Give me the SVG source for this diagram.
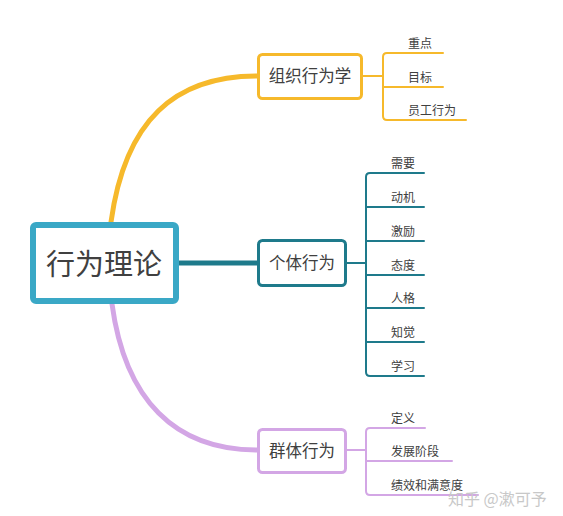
<svg xmlns="http://www.w3.org/2000/svg" width="563" height="516" viewBox="0 0 563 516">
<style>
text{font-family:"Noto Sans CJK SC","Noto Sans",sans-serif;fill:#404040}
.main{font-size:29px;text-anchor:middle}
.sub{font-size:16.5px;text-anchor:middle}
.leaf{font-size:12px}
.o{stroke:#f6b92b;fill:none}
.t{stroke:#1e7a8b;fill:none}
.p{stroke:#d3a6e5;fill:none}
.wm{font-size:16px;fill:#c8c8c8}
</style>
<rect width="563" height="516" fill="#ffffff"/>
<g id="connectors" stroke-linecap="round">
<path class="o" stroke-width="5" d="M111,222 C125,120 175,76 257,76"/>
<path class="t" stroke-width="5" d="M179,263 L257,263"/>
<path class="p" stroke-width="5" d="M112,304 C125,400 175,450 257,450"/>
<path class="o" stroke-width="2" d="M363,76 H383"/>
<path class="o" stroke-width="2" d="M443,53 H387 Q383,53 383,57 V116 Q383,120 387,120 H466 M383,87 H443"/>
<path class="t" stroke-width="2" d="M347,263 H366"/>
<path class="t" stroke-width="2" d="M424,173 H370 Q366,173 366,177 V372 Q366,376 370,376 H424 M366,207 H424 M366,241 H424 M366,275 H424 M366,308 H424 M366,342 H424"/>
<path class="p" stroke-width="2" d="M347,450 H366"/>
<path class="p" stroke-width="2" d="M425,428 H370 Q366,428 366,432 V491 Q366,495 370,495 H478 M366,461 H452"/>
</g>
<g id="root">
<rect x="33" y="225" width="143" height="76" rx="3" fill="#ffffff" stroke="#3aa8c6" stroke-width="6"/>
<text class="main" x="104" y="275">行为理论</text>
</g>
<g id="n-org">
<rect x="258.5" y="54.5" width="103" height="44" rx="4" fill="#ffffff" stroke="#f6b92b" stroke-width="3"/>
<text class="sub" x="310" y="82">组织行为学</text>
</g>
<g id="n-ind">
<rect x="258.5" y="240.5" width="87" height="45" rx="4" fill="#ffffff" stroke="#1e7a8b" stroke-width="3"/>
<text class="sub" x="302" y="269">个体行为</text>
</g>
<g id="n-grp">
<rect x="258.5" y="429.5" width="87" height="43" rx="4" fill="#ffffff" stroke="#d3a6e5" stroke-width="3"/>
<text class="sub" x="302" y="457">群体行为</text>
</g>
<g id="leaves-org">
<text class="leaf" x="408" y="48">重点</text>
<text class="leaf" x="408" y="82">目标</text>
<text class="leaf" x="408" y="115">员工行为</text>
</g>
<g id="leaves-ind">
<text class="leaf" x="391" y="168">需要</text>
<text class="leaf" x="391" y="202">动机</text>
<text class="leaf" x="391" y="236">激励</text>
<text class="leaf" x="391" y="270">态度</text>
<text class="leaf" x="391" y="303">人格</text>
<text class="leaf" x="391" y="337">知觉</text>
<text class="leaf" x="391" y="371">学习</text>
</g>
<g id="leaves-grp">
<text class="leaf" x="391" y="423">定义</text>
<text class="leaf" x="391" y="456">发展阶段</text>
<text class="leaf" x="391" y="490">绩效和满意度</text>
</g>
<text class="wm" x="448" y="505">知乎 @漱可予</text>
</svg>
